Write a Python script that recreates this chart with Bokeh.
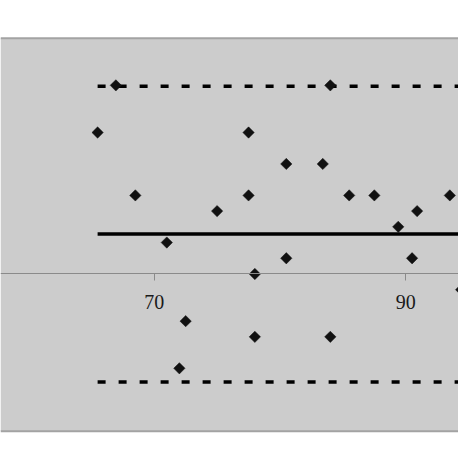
import numpy as np
from bokeh.plotting import figure
from bokeh.models import Span, BoxAnnotation, LinearAxis, FixedTicker, Range1d, ColumnDataSource
from bokeh.embed import file_html
from bokeh.resources import INLINE

# Data
mean_values = [66.95, 84.0, 65.5, 77.5, 80.5, 83.4, 68.5, 77.5, 85.5, 87.5, 93.5, 75.0,
               90.9, 89.4, 71.0, 80.5, 90.5, 78.0, 94.4, 72.5, 78.0, 84.0, 95.0, 72.0]
diff_values = [12, 12, 9, 9, 7, 7, 5, 5, 5, 5, 5, 4,
               4, 3, 2, 1, 1, 0, -1, -3, -4, -4, -4, -6]
mean_diff = 2.54
upper_loa = 11.94
lower_loa = -6.87
line_x = [65.5, 96.5]
x_ticks = [50, 70, 90, 110]
y_plot_bottom = -10
y_plot_top = 15

p = figure(width=458, height=458, output_backend="svg", toolbar_location=None,
           x_range=Range1d(57.78, 94.19), y_range=Range1d(-11.74, 17.40),
           x_axis_location=None, y_axis_location=None, min_border=0)
p.min_border_left = 0
p.min_border_right = 0
p.min_border_top = 0
p.min_border_bottom = 0
p.outline_line_color = None
p.grid.visible = False
p.background_fill_color = "white"
p.border_fill_color = "white"

# gray plot area
p.add_layout(BoxAnnotation(bottom=y_plot_bottom, top=y_plot_top, fill_color="#cccccc",
                           fill_alpha=1, line_color=None, level="underlay"))
for yv in (y_plot_top, y_plot_bottom):
    p.add_layout(Span(location=yv, dimension="width", line_color="#a3a3a3", line_width=2))

# x axis crossing at zero
ax = LinearAxis(fixed_location=0, ticker=FixedTicker(ticks=x_ticks))
ax.axis_line_color = "#8a8a8a"
ax.axis_line_width = 1
ax.major_tick_line_color = "#8a8a8a"
ax.major_tick_in = 0
ax.major_tick_out = 7
ax.minor_tick_line_color = None
ax.major_label_text_font = "Liberation Serif"
ax.major_label_text_font_size = "20px"
ax.major_label_text_color = "#1a1a1a"
ax.major_label_standoff = 14
p.add_layout(ax, "below")

# limits of agreement and mean difference
p.line(x=line_x, y=[upper_loa, upper_loa], line_color="black", line_width=3.5,
       line_dash="8 13", line_cap="butt")
p.line(x=line_x, y=[lower_loa, lower_loa], line_color="black", line_width=3.5,
       line_dash="8 13", line_cap="butt")
p.line(x=line_x, y=[mean_diff, mean_diff], line_color="black", line_width=3.5)

src = ColumnDataSource(dict(x=mean_values, y=diff_values))
p.scatter(x="x", y="y", source=src, marker="square", size=8, angle=np.pi / 4,
          fill_color="#111111", line_color="#111111", line_width=0.5)

open("out.html", "w").write(file_html(p, INLINE))
